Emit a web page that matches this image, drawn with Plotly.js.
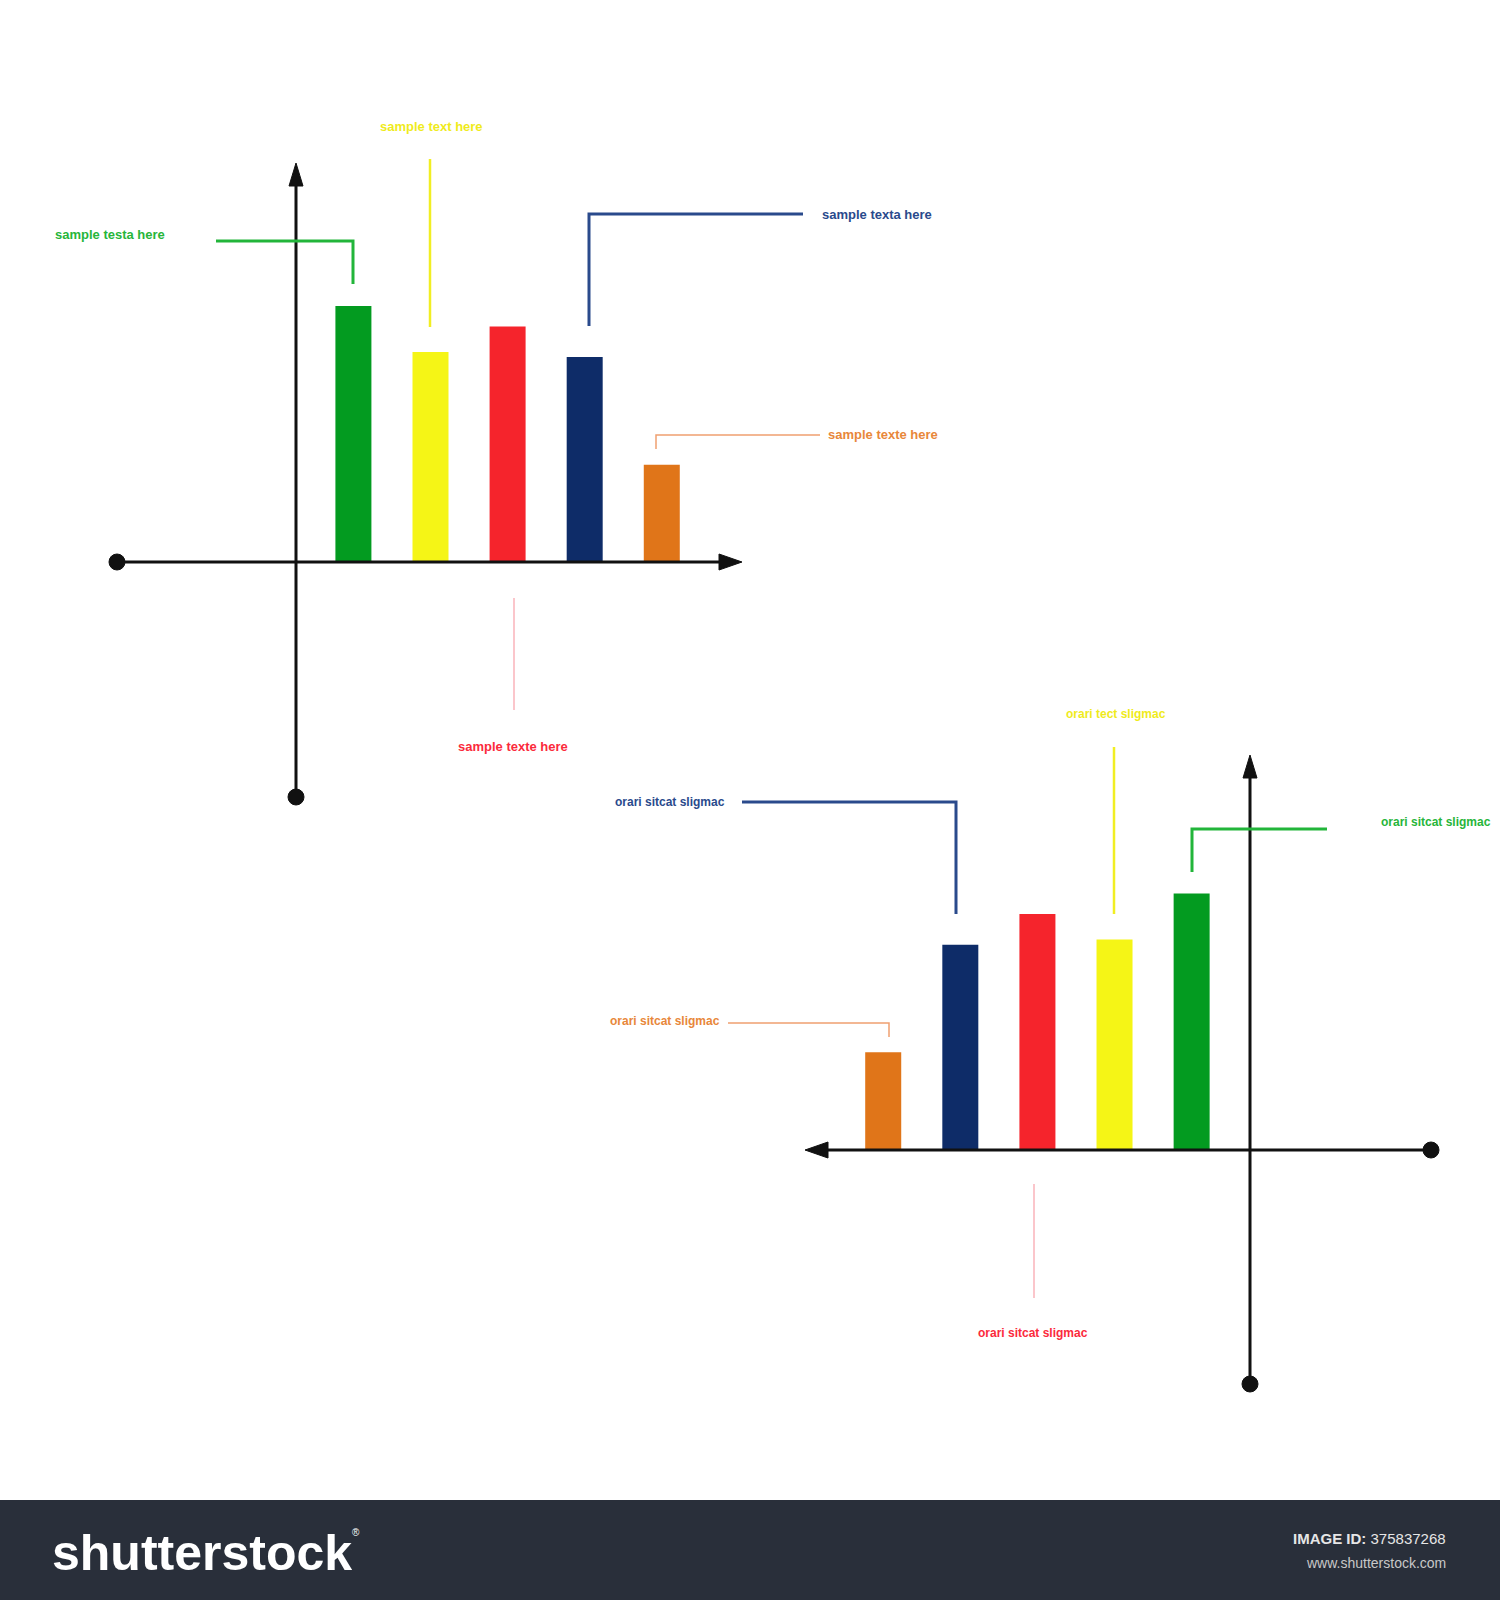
<!DOCTYPE html>
<html>
<head>
<meta charset="utf-8">
<script src="https://cdn.plot.ly/plotly-3.0.1.min.js"></script>
<style>html,body{margin:0;padding:0;background:#fff;}</style>
</head>
<body>
<div id="chart" style="width:1500px;height:1600px;"></div>
<script>
// ---- data ----
const categories = ['Green', 'Yellow', 'Red', 'Navy', 'Orange'];
const values = [100, 82, 92, 80, 38];
const barColors = ['#039b20', '#f5f516', '#f5242c', '#0e2c68', '#e07519'];
const labels1 = ['sample testa here', 'sample text here', 'sample texte here', 'sample texta here', 'sample texte here'];
const labels2 = ['orari sitcat sligmac', 'orari tect sligmac', 'orari sitcat sligmac', 'orari sitcat sligmac', 'orari sitcat sligmac'];
const labelColors = ['#27b53a', '#efeb1c', '#fb2a3c', '#2a4a8c', '#e8873a'];
const footerTexts = ['shutterstock', 'IMAGE ID: 375837268', 'www.shutterstock.com'];

// ---- helpers: pixel -> paper ----
const W = 1500, H = 1600;
const X = px => px / W;
const Y = py => 1 - py / H;

function line(points, color, width) {
  let d = 'M' + points.map(p => X(p[0]) + ',' + Y(p[1])).join(' L');
  return {type: 'path', xref: 'paper', yref: 'paper', path: d,
          line: {color: color, width: width}, fillcolor: 'rgba(0,0,0,0)', layer: 'above'};
}
function tri(points, color) {
  let d = 'M' + points.map(p => X(p[0]) + ',' + Y(p[1])).join(' L') + ' Z';
  return {type: 'path', xref: 'paper', yref: 'paper', path: d,
          line: {color: color, width: 1}, fillcolor: color, layer: 'above'};
}
function dot(cx, cy, r, color) {
  return {type: 'circle', xref: 'paper', yref: 'paper',
          x0: X(cx - r), x1: X(cx + r), y0: Y(cy + r), y1: Y(cy - r),
          fillcolor: color, line: {color: color, width: 1}, layer: 'above'};
}
function label(text, x, y, xanchor, color, size) {
  return {text: '<b>' + text + '</b>', xref: 'paper', yref: 'paper', x: X(x), y: Y(y),
          xanchor: xanchor, yanchor: 'middle', showarrow: false,
          font: {family: 'Liberation Sans, Arial, sans-serif', size: size || 13, color: color}};
}

const AX = '#111111';

const trace1 = {type: 'bar', x: categories, y: values, xaxis: 'x', yaxis: 'y',
  marker: {color: barColors, line: {width: 0}}, hoverinfo: 'skip'};
const trace2 = {type: 'bar', x: categories, y: values, xaxis: 'x2', yaxis: 'y2',
  marker: {color: barColors, line: {width: 0}}, hoverinfo: 'skip'};

const hidden = {showgrid: false, zeroline: false, showline: false, showticklabels: false,
  ticks: '', fixedrange: true};

const shapes = [
  // chart 1 axes
  line([[296, 180], [296, 797]], AX, 3),
  tri([[296, 163], [289, 186], [303, 186]], AX),
  line([[117, 562], [722, 562]], AX, 3),
  tri([[742, 562], [719, 554], [719, 570]], AX),
  dot(117, 562, 8, AX),
  dot(296, 797, 8, AX),
  // chart 1 leaders
  line([[216, 241], [353, 241], [353, 284]], '#22b53a', 3),
  line([[430, 159], [430, 327]], '#f1ee22', 2.5),
  line([[589, 326], [589, 214], [803, 214]], '#2a4a8c', 3),
  line([[656, 449], [656, 435], [820, 435]], '#f0a070', 1.5),
  line([[514, 598], [514, 710]], '#f8a0a8', 1.2),
  // chart 2 axes
  line([[1250, 772], [1250, 1384]], AX, 3),
  tri([[1250, 755], [1243, 778], [1257, 778]], AX),
  line([[824, 1150], [1431, 1150]], AX, 3),
  tri([[805, 1150], [828, 1142], [828, 1158]], AX),
  dot(1431, 1150, 8, AX),
  dot(1250, 1384, 8, AX),
  // chart 2 leaders
  line([[742, 802], [956, 802], [956, 914]], '#2a4a8c', 3),
  line([[1114, 747], [1114, 914]], '#f1ee22', 2.5),
  line([[1192, 872], [1192, 829], [1327, 829]], '#22b53a', 3),
  line([[728, 1023], [889, 1023], [889, 1037]], '#f0a070', 1.5),
  line([[1034, 1184], [1034, 1298]], '#f8a0a8', 1.2),
  // footer band
  {type: 'rect', xref: 'paper', yref: 'paper', x0: 0, x1: 1, y0: 0, y1: Y(1500),
   fillcolor: '#292f3a', line: {width: 0}, layer: 'above'}
];

const annotations = [
  label(labels1[0], 53, 235, 'left', labelColors[0]),
  label(labels1[1], 431, 127, 'center', labelColors[1]),
  label(labels1[2], 513, 746, 'center', labelColors[2]),
  label(labels1[3], 820, 214, 'left', labelColors[3]),
  label(labels1[4], 826, 434, 'left', labelColors[4]),
  label(labels2[0], 1493, 822, 'right', labelColors[0], 12),
  label(labels2[1], 1116, 714, 'center', labelColors[1], 12),
  label(labels2[2], 1033, 1333, 'center', labelColors[2], 12),
  label(labels2[3], 727, 802, 'right', labelColors[3], 12),
  label(labels2[4], 722, 1021, 'right', labelColors[4], 12),
  {text: '<b>' + footerTexts[0] + '</b>', xref: 'paper', yref: 'paper',
   x: X(50), y: Y(1553), xanchor: 'left', yanchor: 'middle', showarrow: false,
   font: {family: 'Liberation Sans, sans-serif', size: 50, color: '#ffffff'}},
  {text: '®', xref: 'paper', yref: 'paper',
   x: X(350), y: Y(1532), xanchor: 'left', yanchor: 'middle', showarrow: false,
   font: {family: 'Liberation Sans, sans-serif', size: 10, color: '#ffffff'}},
  {text: '<b>IMAGE ID:</b> 375837268', xref: 'paper', yref: 'paper',
   x: X(1448), y: Y(1538), xanchor: 'right', yanchor: 'middle', showarrow: false,
   font: {family: 'Liberation Sans Narrow, Liberation Sans, sans-serif', size: 15, color: '#e6e6e6'}},
  {text: footerTexts[2], xref: 'paper', yref: 'paper',
   x: X(1448), y: Y(1563), xanchor: 'right', yanchor: 'middle', showarrow: false,
   font: {family: 'Liberation Sans Narrow, Liberation Sans, sans-serif', size: 14, color: '#c8c8c8'}}
];

const layout = {
  width: W, height: H,
  margin: {l: 0, r: 0, t: 0, b: 0, pad: 0},
  paper_bgcolor: '#ffffff', plot_bgcolor: 'rgba(0,0,0,0)',
  showlegend: false,
  bargap: 0.533,
  xaxis: Object.assign({}, hidden, {domain: [X(100), X(760)], range: [-3.287, 5.274], type: 'category'}),
  yaxis: Object.assign({}, hidden, {domain: [Y(820), Y(150)], range: [-100.8, 160.9]}),
  xaxis2: Object.assign({}, hidden, {domain: [X(790), X(1450)], range: [5.209, -3.351], type: 'category', anchor: 'y2'}),
  yaxis2: Object.assign({}, hidden, {domain: [Y(1400), Y(740)], range: [-97.85, 159.96], anchor: 'x2'}),
  shapes: shapes,
  annotations: annotations
};

Plotly.newPlot('chart', [trace1, trace2], layout, {staticPlot: true, displayModeBar: false});
</script>
</body>
</html>
